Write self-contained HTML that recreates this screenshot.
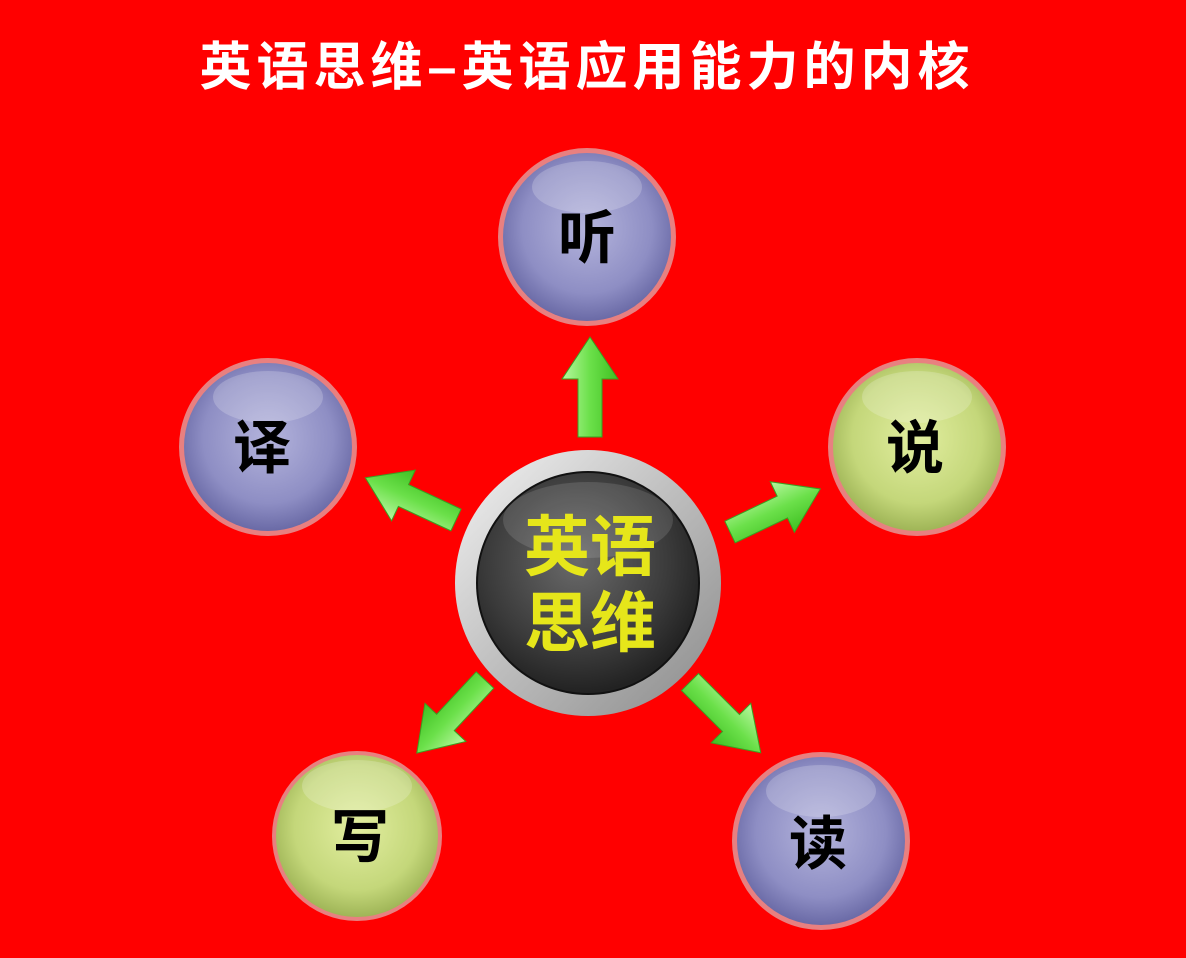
<!DOCTYPE html>
<html><head><meta charset="utf-8"><style>
html,body{margin:0;padding:0;background:#ff0000;}
body{width:1186px;height:953px;overflow:hidden;position:relative;font-family:"Liberation Sans","Noto Sans CJK SC",sans-serif;}
</style></head><body>
<svg width="1186" height="953" viewBox="0 0 1186 953" xmlns="http://www.w3.org/2000/svg">
<defs>
<radialGradient id="blue" cx="50%" cy="45%" r="55%">
<stop offset="0" stop-color="#b4b4dc"/><stop offset="0.7" stop-color="#8e8ec4"/><stop offset="1" stop-color="#6a6aa6"/></radialGradient>
<radialGradient id="green" cx="50%" cy="45%" r="55%">
<stop offset="0" stop-color="#e2eeA0"/><stop offset="0.7" stop-color="#c4d77a"/><stop offset="1" stop-color="#9fb557"/></radialGradient>
<radialGradient id="dark" cx="45%" cy="40%" r="60%">
<stop offset="0" stop-color="#6a6a6a"/><stop offset="0.7" stop-color="#3a3a3a"/><stop offset="1" stop-color="#222"/></radialGradient>
<linearGradient id="ring" x1="0" y1="0" x2="1" y2="1">
<stop offset="0" stop-color="#f4f4f4"/><stop offset="0.5" stop-color="#bdbdbd"/><stop offset="1" stop-color="#8a8a8a"/></linearGradient>
<linearGradient id="arr" x1="0" y1="0" x2="0" y2="1">
<stop offset="0" stop-color="#b8f7a0"/><stop offset="0.5" stop-color="#6be04a"/><stop offset="1" stop-color="#3fc022"/></linearGradient>
<g id="a"><polygon points="0,-12 58,-12 58,-28 100,0 58,28 58,12 0,12" fill="url(#arr)" stroke="#3aa020" stroke-width="1"/></g>
<g id="hl"><ellipse cx="0" cy="-50" rx="55" ry="26" fill="#fff" opacity="0.2"/></g>
</defs>
<text x="587" y="85" text-anchor="middle" font-size="52" letter-spacing="5" font-weight="bold" fill="#fff" font-family="'Liberation Sans','Noto Sans CJK SC',sans-serif">英语思维–英语应用能力的内核</text>

<use href="#a" transform="translate(590,437) rotate(-90)"/>
<use href="#a" transform="translate(730,532) rotate(-25.5)"/>
<use href="#a" transform="translate(456,520) rotate(205)"/>
<use href="#a" transform="translate(485,680) rotate(133)"/>
<use href="#a" transform="translate(690,682) rotate(45)"/>

<g font-family="'Liberation Sans','Noto Sans CJK SC',sans-serif" font-weight="bold" font-size="58" text-anchor="middle">
<circle cx="587" cy="237" r="89" fill="#e88080"/><circle cx="587" cy="237" r="84" fill="url(#blue)"/>
<use href="#hl" transform="translate(587,237)"/><text x="587" y="258" fill="#000">听</text>
<circle cx="917" cy="447" r="89" fill="#e88080"/><circle cx="917" cy="447" r="84" fill="url(#green)"/>
<use href="#hl" transform="translate(917,447)"/><text x="915" y="468" fill="#000">说</text>
<circle cx="268" cy="447" r="89" fill="#e88080"/><circle cx="268" cy="447" r="84" fill="url(#blue)"/>
<use href="#hl" transform="translate(268,447)"/><text x="262" y="468" fill="#000">译</text>
<circle cx="357" cy="836" r="85" fill="#e88080"/><circle cx="357" cy="836" r="81" fill="url(#green)"/>
<use href="#hl" transform="translate(357,836)"/><text x="360" y="857" fill="#000">写</text>
<circle cx="821" cy="841" r="89" fill="#e88080"/><circle cx="821" cy="841" r="84" fill="url(#blue)"/>
<use href="#hl" transform="translate(821,841)"/><text x="818" y="864" fill="#000">读</text>

<circle cx="588" cy="583" r="133" fill="url(#ring)"/>
<circle cx="588" cy="583" r="112" fill="#111"/>
<circle cx="588" cy="583" r="110" fill="url(#dark)"/>
<ellipse cx="588" cy="520" rx="85" ry="38" fill="#fff" opacity="0.12"/>
<text x="590" y="570" fill="#e6e61a" font-size="66">英语</text>
<text x="590" y="646" fill="#e6e61a" font-size="66">思维</text>
</g>
</svg>
</body></html>
